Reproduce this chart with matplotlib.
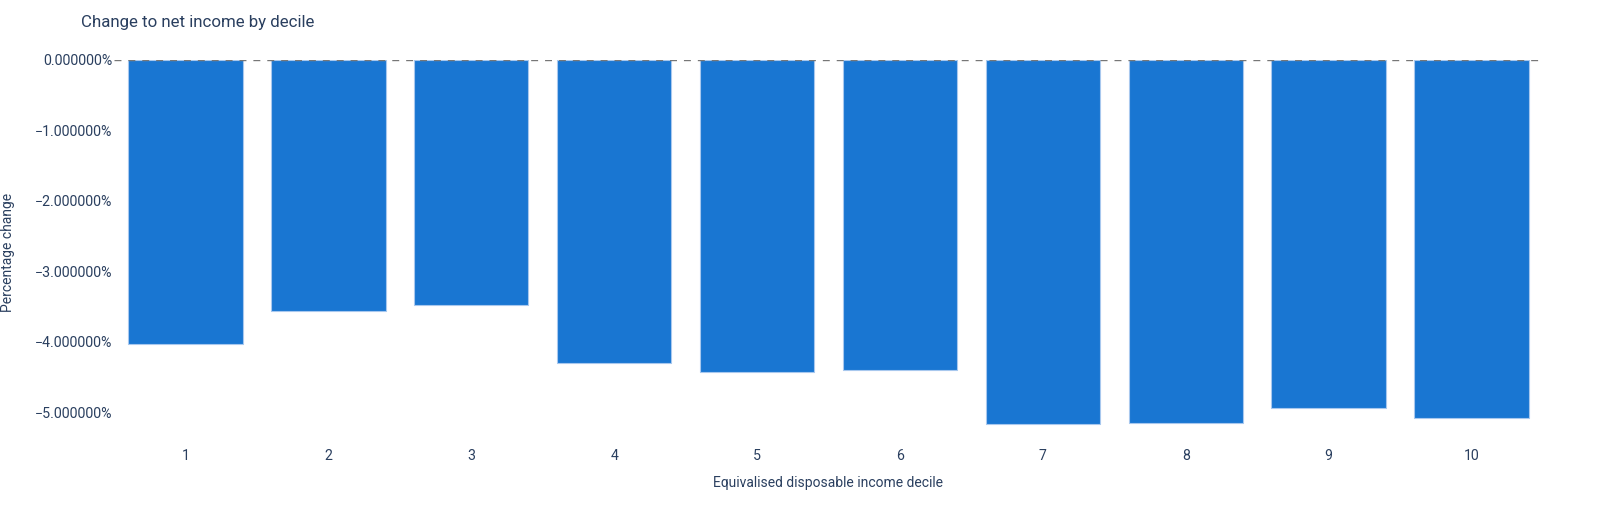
import matplotlib.pyplot as plt
from matplotlib.ticker import FuncFormatter

plt.rcParams['font.family'] = ['Roboto', 'DejaVu Sans']

deciles = ['1', '2', '3', '4', '5', '6', '7', '8', '9', '10']
pct_change = [-4.03, -3.56, -3.48, -4.30, -4.43, -4.41, -5.17, -5.15, -4.94, -5.08]
y_ticks = [0, -1, -2, -3, -4, -5]

txt = '#2a3f5f'
W, H = 1624, 525

fig = plt.figure(figsize=(W / 100, H / 100), dpi=100)
# plot area in pixel coords of the reference
ax = fig.add_axes([114 / W, 1 - 443 / H, (1543 - 114) / W, (443 - 60) / H])

ax.bar(range(len(deciles)), pct_change, width=0.8, color='#1976d2',
       edgecolor='#a8c8ee', linewidth=0.8, zorder=2)
ax.axhline(0, color='#777777', linestyle=(0, (5, 5)), linewidth=1, zorder=3)

ax.set_xlim(-0.5, 9.5)
ax.set_ylim(-5.44, 0)
ax.set_xticks(range(len(deciles)))
ax.set_xticklabels(deciles)
ax.set_yticks(y_ticks)
ax.yaxis.set_major_formatter(FuncFormatter(lambda v, p: f'{v:.6f}%'.replace('-', '\u2212')))
ax.tick_params(axis='both', length=0, labelsize=10.2, labelcolor=txt)
ax.tick_params(axis='x', pad=4)
ax.tick_params(axis='y', pad=1)
for s in ax.spines.values():
    s.set_visible(False)

ax.set_xlabel('Equivalised disposable income decile', fontsize=10, color=txt, labelpad=10)
fig.text(8 / W, 1 - 252 / H, 'Percentage change', rotation=90, ha='center', va='center',
         fontsize=10, color=txt)
fig.text(81 / W, 1 - 23 / H, 'Change to net income by decile', ha='left', va='center',
         fontsize=12.2, color=txt)

fig.savefig('out.png', dpi=100, facecolor='white')
